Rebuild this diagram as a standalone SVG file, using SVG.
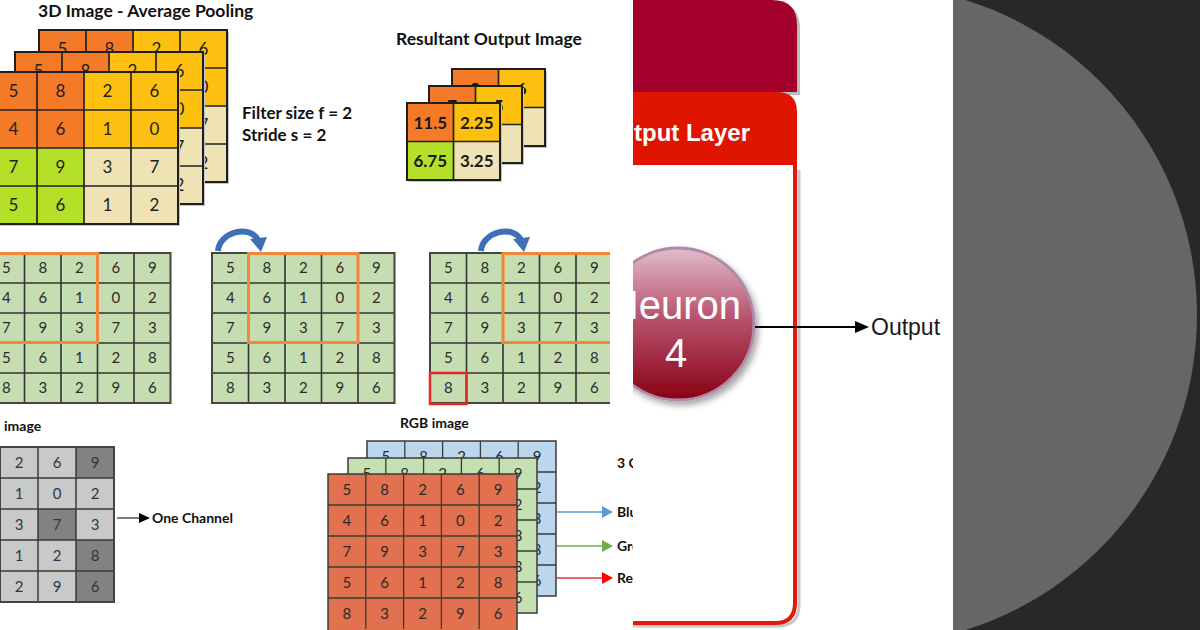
<svg xmlns="http://www.w3.org/2000/svg" width="1200" height="630" viewBox="0 0 1200 630">
<style>
.t{font-family:Lato,"Liberation Sans",sans-serif;font-weight:700;fill:#111}
.n{font-family:Lato,"Liberation Sans",sans-serif;font-size:15px;fill:#2b2b2b;text-anchor:middle}
.nb{font-family:Lato,"Liberation Sans",sans-serif;font-size:17px;fill:#222;text-anchor:middle}
.no{font-family:Lato,"Liberation Sans",sans-serif;font-size:17px;font-weight:700;fill:#1a1a1a;text-anchor:middle}
.ng{font-family:Lato,"Liberation Sans",sans-serif;font-size:15px;fill:#26384a;text-anchor:middle}
.sh{fill:#c4c4c4}
.ln{fill:none;stroke:#222;stroke-width:1.7}
.fr{fill:none;stroke:#f0873a;stroke-width:3}
.cur{fill:none;stroke:#3f70b6;stroke-width:6}
.curh{fill:#3f70b6}
</style>
<defs>
<g id="g4">
<rect x="2" y="2" width="188" height="152" class="sh"/>
<rect width="94" height="76" fill="#f47a28"/>
<rect x="94" width="94" height="76" fill="#fdc010"/>
<rect y="76" width="94" height="76" fill="#b5e02a"/>
<rect x="94" y="76" width="94" height="76" fill="#efe3b5"/>
<path class="ln" d="M47 0V152M94 0V152M141 0V152M0 38H188M0 76H188M0 114H188"/>
<rect width="188" height="152" fill="none" stroke="#1e1e1e" stroke-width="2"/>
</g>
<g id="g2">
<rect x="2" y="2" width="93" height="77" class="sh"/>
<rect width="46.5" height="38.5" fill="#f47a28"/>
<rect x="46.5" width="46.5" height="38.5" fill="#fdc010"/>
<rect y="38.5" width="46.5" height="38.5" fill="#b5e02a"/>
<rect x="46.5" y="38.5" width="46.5" height="38.5" fill="#efe3b5"/>
<path class="ln" d="M46.5 0V77M0 38.5H93"/>
<rect width="93" height="77" fill="none" stroke="#1e1e1e" stroke-width="2"/>
</g>
<g id="g5">
<rect width="182.5" height="150" fill="#c6ddb2"/>
<path d="M36.5 0V150M73 0V150M109.5 0V150M146 0V150M0 30H182.5M0 60H182.5M0 90H182.5M0 120H182.5" fill="none" stroke="#333" stroke-width="1.6"/>
<rect width="182.5" height="150" fill="none" stroke="#444" stroke-width="2"/>
</g>
<path id="gl5" d="M37.8 0V155M75.6 0V155M113.4 0V155M151.2 0V155M0 31H189M0 62H189M0 93H189M0 124H189"/>
<clipPath id="clipL"><rect x="0" y="0" width="610" height="630"/></clipPath>
<clipPath id="clipN"><rect x="633" y="0" width="320" height="630"/></clipPath>
<clipPath id="clipD"><rect x="953" y="0" width="247" height="630"/></clipPath>
<linearGradient id="neu" x1="0" y1="0" x2="0" y2="1">
<stop offset="0" stop-color="#e2bccb"/>
<stop offset="0.45" stop-color="#b85470"/>
<stop offset="1" stop-color="#8a0012"/>
</linearGradient>
<filter id="ds" x="-20%" y="-20%" width="150%" height="150%"><feDropShadow dx="3" dy="4" stdDeviation="3" flood-color="#000" flood-opacity="0.35"/></filter>
</defs>

<rect width="1200" height="630" fill="#fff"/>

<g id="left-panel">
<text class="t" x="38" y="17" font-size="17.5">3D Image - Average Pooling</text>

<g id="stack-3d">
<use href="#g4" x="39" y="30"/>
<g id="back-nums">
<text class="nb" x="62.5" y="54.5">5</text><text class="nb" x="109.5" y="54.5">8</text><text class="nb" x="156.5" y="54.5">2</text><text class="nb" x="203.5" y="54.5">6</text>
<text class="nb" x="203.5" y="92.5">0</text><text class="nb" x="203.5" y="130.5">7</text><text class="nb" x="203.5" y="168.5">2</text>
</g>
<use href="#g4" x="15" y="52"/>
<g id="mid-nums">
<text class="nb" x="38.5" y="76.5">5</text><text class="nb" x="85.5" y="76.5">8</text><text class="nb" x="132.5" y="76.5">2</text><text class="nb" x="179.5" y="76.5">6</text>
<text class="nb" x="179.5" y="114.5">0</text><text class="nb" x="179.5" y="152.5">7</text><text class="nb" x="179.5" y="190.5">2</text>
</g>
<use href="#g4" x="-10" y="72"/>
<g id="front-nums">
<text class="nb" x="13.5" y="97">5</text><text class="nb" x="60.5" y="97">8</text><text class="nb" x="107.5" y="97">2</text><text class="nb" x="154.5" y="97">6</text>
<text class="nb" x="13.5" y="135">4</text><text class="nb" x="60.5" y="135">6</text><text class="nb" x="107.5" y="135">1</text><text class="nb" x="154.5" y="135">0</text>
<text class="nb" x="13.5" y="173">7</text><text class="nb" x="60.5" y="173">9</text><text class="nb" x="107.5" y="173">3</text><text class="nb" x="154.5" y="173">7</text>
<text class="nb" x="13.5" y="211">5</text><text class="nb" x="60.5" y="211">6</text><text class="nb" x="107.5" y="211">1</text><text class="nb" x="154.5" y="211">2</text>
</g>
</g>

<g id="filter-params">
<text class="t" x="242" y="119" font-size="17">Filter size f = 2</text>
<text class="t" x="242" y="141" font-size="17">Stride s = 2</text>
</g>

<g id="output-stack">
<text class="t" x="396" y="45" font-size="17.5">Resultant Output Image</text>
<use href="#g2" x="452" y="69"/>
<text class="no" x="475.25" y="94.5">9</text><text class="no" x="521.75" y="94.5">6</text>
<use href="#g2" x="429" y="86"/>
<text class="no" x="452.25" y="111.5">7</text><text class="no" x="498.75" y="111.5">5</text>
<use href="#g2" x="407" y="103"/>
<text class="no" x="430.25" y="128.5">11.5</text><text class="no" x="476.75" y="128.5">2.25</text>
<text class="no" x="430.25" y="167">6.75</text><text class="no" x="476.75" y="167">3.25</text>
</g>

<g id="grid-step1">
<use href="#g5" x="-12" y="253"/>
<text class="n" x="6.25" y="273">5</text><text class="n" x="42.75" y="273">8</text><text class="n" x="79.25" y="273">2</text><text class="n" x="115.75" y="273">6</text><text class="n" x="152.25" y="273">9</text>
<text class="n" x="6.25" y="303">4</text><text class="n" x="42.75" y="303">6</text><text class="n" x="79.25" y="303">1</text><text class="n" x="115.75" y="303">0</text><text class="n" x="152.25" y="303">2</text>
<text class="n" x="6.25" y="333">7</text><text class="n" x="42.75" y="333">9</text><text class="n" x="79.25" y="333">3</text><text class="n" x="115.75" y="333">7</text><text class="n" x="152.25" y="333">3</text>
<text class="n" x="6.25" y="363">5</text><text class="n" x="42.75" y="363">6</text><text class="n" x="79.25" y="363">1</text><text class="n" x="115.75" y="363">2</text><text class="n" x="152.25" y="363">8</text>
<text class="n" x="6.25" y="393">8</text><text class="n" x="42.75" y="393">3</text><text class="n" x="79.25" y="393">2</text><text class="n" x="115.75" y="393">9</text><text class="n" x="152.25" y="393">6</text>
<rect class="fr" x="-14" y="253.5" width="111.5" height="89"/>
</g>

<g id="grid-step2">
<use href="#g5" x="212" y="253"/>
<text class="n" x="230.25" y="273">5</text><text class="n" x="266.75" y="273">8</text><text class="n" x="303.25" y="273">2</text><text class="n" x="339.75" y="273">6</text><text class="n" x="376.25" y="273">9</text>
<text class="n" x="230.25" y="303">4</text><text class="n" x="266.75" y="303">6</text><text class="n" x="303.25" y="303">1</text><text class="n" x="339.75" y="303">0</text><text class="n" x="376.25" y="303">2</text>
<text class="n" x="230.25" y="333">7</text><text class="n" x="266.75" y="333">9</text><text class="n" x="303.25" y="333">3</text><text class="n" x="339.75" y="333">7</text><text class="n" x="376.25" y="333">3</text>
<text class="n" x="230.25" y="363">5</text><text class="n" x="266.75" y="363">6</text><text class="n" x="303.25" y="363">1</text><text class="n" x="339.75" y="363">2</text><text class="n" x="376.25" y="363">8</text>
<text class="n" x="230.25" y="393">8</text><text class="n" x="266.75" y="393">3</text><text class="n" x="303.25" y="393">2</text><text class="n" x="339.75" y="393">9</text><text class="n" x="376.25" y="393">6</text>
<rect class="fr" x="248.5" y="253.5" width="109.5" height="89"/>
<path class="cur" d="M218 251C219 232 250 224 258 240"/>
<polygon class="curh" points="250,239 267,237 261,252"/>
</g>

<g id="grid-step3" clip-path="url(#clipL)">
<use href="#g5" x="430" y="253"/>
<text class="n" x="448.25" y="273">5</text><text class="n" x="484.75" y="273">8</text><text class="n" x="521.25" y="273">2</text><text class="n" x="557.75" y="273">6</text><text class="n" x="594.25" y="273">9</text>
<text class="n" x="448.25" y="303">4</text><text class="n" x="484.75" y="303">6</text><text class="n" x="521.25" y="303">1</text><text class="n" x="557.75" y="303">0</text><text class="n" x="594.25" y="303">2</text>
<text class="n" x="448.25" y="333">7</text><text class="n" x="484.75" y="333">9</text><text class="n" x="521.25" y="333">3</text><text class="n" x="557.75" y="333">7</text><text class="n" x="594.25" y="333">3</text>
<text class="n" x="448.25" y="363">5</text><text class="n" x="484.75" y="363">6</text><text class="n" x="521.25" y="363">1</text><text class="n" x="557.75" y="363">2</text><text class="n" x="594.25" y="363">8</text>
<text class="n" x="448.25" y="393">8</text><text class="n" x="484.75" y="393">3</text><text class="n" x="521.25" y="393">2</text><text class="n" x="557.75" y="393">9</text><text class="n" x="594.25" y="393">6</text>
<rect class="fr" x="503" y="253.5" width="130" height="89"/>
<rect x="430" y="373" width="36.5" height="31" fill="none" stroke="#e02a2a" stroke-width="2.5"/>
<path class="cur" d="M481 251C482 232 513 224 521 240"/>
<polygon class="curh" points="513,239 530,237 524,252"/>
</g>

<g id="gray-image">
<text class="t" x="4" y="431" font-size="14">image</text>
<rect x="0" y="447" width="114" height="155" fill="#c9c9c9"/>
<rect x="76" y="447" width="38" height="31" fill="#828282"/>
<rect x="38" y="509" width="38" height="31" fill="#828282"/>
<rect x="76" y="540" width="38" height="62" fill="#828282"/>
<path d="M38 447V602M76 447V602M0 478H114M0 509H114M0 540H114M0 571H114" fill="none" stroke="#3a3a3a" stroke-width="1.5"/>
<rect x="0" y="447" width="114" height="155" fill="none" stroke="#444" stroke-width="2"/>
<text class="ng" x="19" y="467.5">2</text><text class="ng" x="57" y="467.5">6</text><text class="ng" x="95" y="467.5">9</text>
<text class="ng" x="19" y="498.5">1</text><text class="ng" x="57" y="498.5">0</text><text class="ng" x="95" y="498.5">2</text>
<text class="ng" x="19" y="529.5">3</text><text class="ng" x="57" y="529.5">7</text><text class="ng" x="95" y="529.5">3</text>
<text class="ng" x="19" y="560.5">1</text><text class="ng" x="57" y="560.5">2</text><text class="ng" x="95" y="560.5">8</text>
<text class="ng" x="19" y="591.5">2</text><text class="ng" x="57" y="591.5">9</text><text class="ng" x="95" y="591.5">6</text>
</g>

<g id="connectors">
<line x1="117" y1="518" x2="140" y2="518" stroke="#555" stroke-width="1.5"/>
<polygon points="139,513 150,518 139,523" fill="#000"/>
<line x1="557" y1="512" x2="604" y2="512" stroke="#5b9bd5" stroke-width="1.5"/>
<polygon points="602,506 613,512 602,518" fill="#5b9bd5"/>
<line x1="536" y1="546" x2="604" y2="546" stroke="#70ad47" stroke-width="1.5"/>
<polygon points="602,540 613,546 602,552" fill="#70ad47"/>
<line x1="517" y1="578" x2="604" y2="578" stroke="#f03030" stroke-width="1.5"/>
<polygon points="602,572 613,578 602,584" fill="#ff0000"/>
</g>
<text class="t" x="152" y="523" font-size="14">One Channel</text>

<g id="rgb-image">
<text class="t" x="400" y="428" font-size="14">RGB image</text>
<rect x="367" y="441" width="189" height="155" fill="#bcd6ee"/>
<use href="#gl5" x="367" y="441" fill="none" stroke="#3a3a3a" stroke-width="1.3"/>
<rect x="367" y="441" width="189" height="155" fill="none" stroke="#3a3a3a" stroke-width="1.5"/>
<text class="n" x="385.9" y="461.5">5</text><text class="n" x="423.7" y="461.5">8</text><text class="n" x="461.5" y="461.5">2</text><text class="n" x="499.3" y="461.5">6</text><text class="n" x="537.1" y="461.5">9</text>
<text class="n" x="537.1" y="492.5">2</text><text class="n" x="537.1" y="523.5">3</text><text class="n" x="537.1" y="554.5">8</text><text class="n" x="537.1" y="585.5">6</text>
<rect x="348" y="458" width="189" height="155" fill="#c5e0b3"/>
<use href="#gl5" x="348" y="458" fill="none" stroke="#3a3a3a" stroke-width="1.3"/>
<rect x="348" y="458" width="189" height="155" fill="none" stroke="#3a3a3a" stroke-width="1.5"/>
<text class="n" x="366.9" y="478.5">5</text><text class="n" x="404.7" y="478.5">8</text><text class="n" x="442.5" y="478.5">2</text><text class="n" x="480.3" y="478.5">6</text><text class="n" x="518.1" y="478.5">9</text>
<text class="n" x="518.1" y="509.5">2</text><text class="n" x="518.1" y="540.5">3</text><text class="n" x="518.1" y="571.5">8</text><text class="n" x="518.1" y="602.5">6</text>
<rect x="328" y="474" width="189" height="160" fill="#e2714f"/>
<use href="#gl5" x="328" y="474" fill="none" stroke="#3a3a3a" stroke-width="1.3"/>
<path d="M328 630V474H517V630" fill="none" stroke="#3a3a3a" stroke-width="1.5"/>
<text class="n" x="346.9" y="494.5">5</text><text class="n" x="384.7" y="494.5">8</text><text class="n" x="422.5" y="494.5">2</text><text class="n" x="460.3" y="494.5">6</text><text class="n" x="498.1" y="494.5">9</text>
<text class="n" x="346.9" y="525.5">4</text><text class="n" x="384.7" y="525.5">6</text><text class="n" x="422.5" y="525.5">1</text><text class="n" x="460.3" y="525.5">0</text><text class="n" x="498.1" y="525.5">2</text>
<text class="n" x="346.9" y="556.5">7</text><text class="n" x="384.7" y="556.5">9</text><text class="n" x="422.5" y="556.5">3</text><text class="n" x="460.3" y="556.5">7</text><text class="n" x="498.1" y="556.5">3</text>
<text class="n" x="346.9" y="587.5">5</text><text class="n" x="384.7" y="587.5">6</text><text class="n" x="422.5" y="587.5">1</text><text class="n" x="460.3" y="587.5">2</text><text class="n" x="498.1" y="587.5">8</text>
<text class="n" x="346.9" y="618.5">8</text><text class="n" x="384.7" y="618.5">3</text><text class="n" x="422.5" y="618.5">2</text><text class="n" x="460.3" y="618.5">9</text><text class="n" x="498.1" y="618.5">6</text>
</g>
<g id="channel-labels">
<text class="t" x="617" y="468" font-size="14">3 Channels</text>
<text class="t" x="617" y="517" font-size="14">Blue</text>
<text class="t" x="617" y="551" font-size="14">Green</text>
<text class="t" x="617" y="583" font-size="14">Red</text>
</g>
</g>

<g id="output-layer-panel">
<rect x="633" y="0" width="320" height="630" fill="#fff"/>
<g clip-path="url(#clipN)">
<path d="M560 3H775Q800 3 800 28V95H560Z" fill="#bdbdbd"/>
<path d="M560 0H772Q797 0 797 25V92H560Z" fill="#a3002b"/>
<path d="M560 626H778Q799 626 799 605V170" fill="none" stroke="#c8c8c8" stroke-width="3"/>
<path d="M560 165V92H777Q797 92 797 112V165Z" fill="#e01500"/>
<path d="M795 165V603Q795 623 775 623H560" fill="none" stroke="#e01a10" stroke-width="4"/>
<text x="750" y="141" text-anchor="end" font-family="'Liberation Sans',Arial,sans-serif" font-size="24" font-weight="700" fill="#fff">Output Layer</text>
<g id="neuron-4">
<circle cx="678" cy="324" r="76" fill="url(#neu)" stroke="#b08aaa" stroke-width="3" filter="url(#ds)"/>
<text x="741" y="319" text-anchor="end" font-family="'Liberation Sans',Arial,sans-serif" font-size="40" fill="#fff">Neuron</text>
<text x="676" y="367" text-anchor="middle" font-family="'Liberation Sans',Arial,sans-serif" font-size="40" fill="#fff">4</text>
</g>
</g>
<g id="output-connector">
<line x1="755" y1="327" x2="860" y2="327" stroke="#000" stroke-width="1.8"/>
<polygon points="855,321 869,327 855,333" fill="#000"/>
</g>
<text x="871" y="335" font-family="'Liberation Sans',Arial,sans-serif" font-size="23" fill="#1a1a1a">Output</text>
</g>

<g id="dark-panel">
<rect x="953" y="0" width="247" height="630" fill="#282828"/>
<circle cx="867" cy="315" r="330" fill="#666" clip-path="url(#clipD)"/>
</g>
</svg>
